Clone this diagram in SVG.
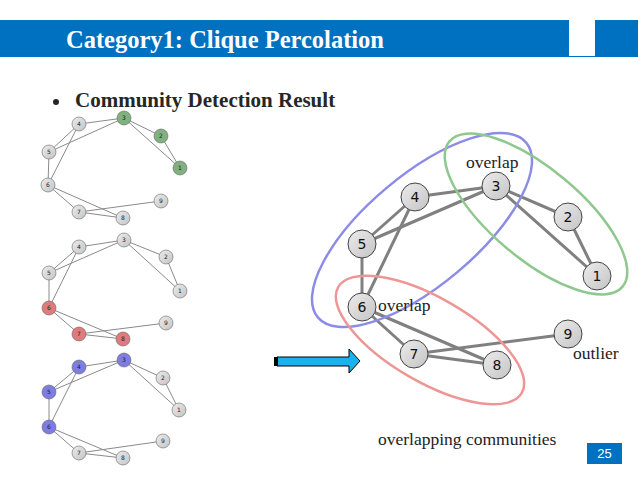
<svg xmlns="http://www.w3.org/2000/svg" width="638" height="479" viewBox="0 0 638 479">
<defs>
<linearGradient id="ng" x1="0" y1="0" x2="1" y2="1">
<stop offset="0" stop-color="#ececec"/>
<stop offset="1" stop-color="#c4c4c4"/>
</linearGradient>
<style>
.title{font-family:"Liberation Serif",serif;font-weight:bold;font-size:24.5px;fill:#fff}
.bul{font-family:"Liberation Serif",serif;font-weight:bold;font-size:21px;fill:#262626}
.lbl{font-family:"Liberation Serif",serif;font-size:17.5px;fill:#222}
.se line{stroke:#8a8a8a;stroke-width:1}
.sn circle{stroke:#666;stroke-width:0.6;fill:url(#ng)}
.sn .g{fill:#7fb27f}
.sn .r{fill:#e07b7b}
.sn .b{fill:#7d7de2}
.sn text{font-family:"DejaVu Sans",sans-serif;font-size:6px;fill:#222;text-anchor:middle}
.be line{stroke:#808080;stroke-width:3}
.bn circle{stroke:#444;stroke-width:1;fill:url(#ng)}
.bn text{font-family:"DejaVu Sans",sans-serif;font-size:14px;fill:#111;text-anchor:middle}
.ell{fill:none;stroke-width:2.5}
</style>
</defs>
<rect width="638" height="479" fill="#fff"/>
<!-- header -->
<rect x="0" y="20" width="638" height="37" fill="#0070c0"/>
<rect x="569" y="20" width="26" height="36" fill="#fff"/>
<text class="title" x="66" y="48">Category1: Clique Percolation</text>
<circle cx="56" cy="102" r="3" fill="#262626"/>
<text class="bul" x="75" y="107">Community Detection Result</text>

<!-- small graph 1 -->
<g id="small1">
<g class="se">
<line x1="79" y1="124" x2="124" y2="118"/><line x1="49" y1="152" x2="79" y2="124"/><line x1="49" y1="152" x2="124" y2="118"/>
<line x1="79" y1="124" x2="48" y2="185"/><line x1="49" y1="152" x2="48" y2="185"/><line x1="124" y1="118" x2="161" y2="136"/>
<line x1="124" y1="118" x2="180" y2="168"/><line x1="161" y1="136" x2="180" y2="168"/><line x1="48" y1="185" x2="79" y2="212"/>
<line x1="48" y1="185" x2="123" y2="218"/><line x1="79" y1="212" x2="123" y2="218"/><line x1="79" y1="212" x2="161" y2="201"/>
</g>
<g class="sn">
<circle class="g" cx="180" cy="168" r="7"/><text x="180" y="170">1</text>
<circle class="g" cx="161" cy="136" r="7"/><text x="161" y="138">2</text>
<circle class="g" cx="124" cy="118" r="7"/><text x="124" y="120">3</text>
<circle cx="79" cy="124" r="7"/><text x="79" y="126">4</text>
<circle cx="49" cy="152" r="7"/><text x="49" y="154">5</text>
<circle cx="48" cy="185" r="7"/><text x="48" y="187">6</text>
<circle cx="79" cy="212" r="7"/><text x="79" y="214">7</text>
<circle cx="123" cy="218" r="7"/><text x="123" y="220">8</text>
<circle cx="161" cy="201" r="7"/><text x="161" y="203">9</text>
</g>
</g>

<!-- small graph 2 -->
<g id="small2">
<g class="se">
<line x1="79" y1="247" x2="124" y2="240"/><line x1="49" y1="273" x2="79" y2="247"/><line x1="49" y1="273" x2="124" y2="240"/>
<line x1="79" y1="247" x2="49" y2="308"/><line x1="49" y1="273" x2="49" y2="308"/><line x1="124" y1="240" x2="166" y2="257"/>
<line x1="124" y1="240" x2="180" y2="291"/><line x1="166" y1="257" x2="180" y2="291"/><line x1="49" y1="308" x2="79" y2="334"/>
<line x1="49" y1="308" x2="123" y2="339"/><line x1="79" y1="334" x2="123" y2="339"/><line x1="79" y1="334" x2="166" y2="323"/>
</g>
<g class="sn">
<circle cx="180" cy="291" r="7"/><text x="180" y="293">1</text>
<circle cx="166" cy="257" r="7"/><text x="166" y="259">2</text>
<circle cx="124" cy="240" r="7"/><text x="124" y="242">3</text>
<circle cx="79" cy="247" r="7"/><text x="79" y="249">4</text>
<circle cx="49" cy="273" r="7"/><text x="49" y="275">5</text>
<circle class="r" cx="49" cy="308" r="7"/><text x="49" y="310">6</text>
<circle class="r" cx="79" cy="334" r="7"/><text x="79" y="336">7</text>
<circle class="r" cx="123" cy="339" r="7"/><text x="123" y="341">8</text>
<circle cx="166" cy="323" r="7"/><text x="166" y="325">9</text>
</g>
</g>

<!-- small graph 3 -->
<g id="small3">
<g class="se">
<line x1="79" y1="367" x2="124" y2="360"/><line x1="49" y1="392" x2="79" y2="367"/><line x1="49" y1="392" x2="124" y2="360"/>
<line x1="79" y1="367" x2="49" y2="427"/><line x1="49" y1="392" x2="49" y2="427"/><line x1="124" y1="360" x2="163" y2="378"/>
<line x1="124" y1="360" x2="179" y2="410"/><line x1="163" y1="378" x2="179" y2="410"/><line x1="49" y1="427" x2="79" y2="453"/>
<line x1="49" y1="427" x2="123" y2="458"/><line x1="79" y1="453" x2="123" y2="458"/><line x1="79" y1="453" x2="163" y2="441"/>
</g>
<g class="sn">
<circle cx="179" cy="410" r="7"/><text x="179" y="412">1</text>
<circle cx="163" cy="378" r="7"/><text x="163" y="380">2</text>
<circle class="b" cx="124" cy="360" r="7"/><text x="124" y="362">3</text>
<circle class="b" cx="79" cy="367" r="7"/><text x="79" y="369">4</text>
<circle class="b" cx="49" cy="392" r="7"/><text x="49" y="394">5</text>
<circle class="b" cx="49" cy="427" r="7"/><text x="49" y="429">6</text>
<circle cx="79" cy="453" r="7"/><text x="79" y="455">7</text>
<circle cx="123" cy="458" r="7"/><text x="123" y="460">8</text>
<circle cx="163" cy="441" r="7"/><text x="163" y="443">9</text>
</g>
</g>

<!-- arrow -->
<g id="arrow">
<polygon points="277,357 349,357 349,349 360,361 349,373 349,366 277,366" fill="#1ab2ee" stroke="#000" stroke-width="1"/>
<rect x="274" y="357" width="4" height="9" fill="#000"/>
</g>

<!-- big graph connectors -->
<g id="connectors" class="be">
<line x1="415" y1="197" x2="496" y2="186"/>
<line x1="362" y1="244" x2="415" y2="197"/>
<line x1="362" y1="244" x2="496" y2="186"/>
<line x1="415" y1="197" x2="362" y2="307"/>
<line x1="362" y1="244" x2="362" y2="307"/>
<line x1="496" y1="186" x2="568" y2="217"/>
<line x1="496" y1="186" x2="597" y2="276"/>
<line x1="568" y1="217" x2="597" y2="276"/>
<line x1="362" y1="307" x2="414" y2="354"/>
<line x1="362" y1="307" x2="497" y2="365"/>
<line x1="414" y1="354" x2="497" y2="365"/>
<line x1="414" y1="354" x2="568" y2="334"/>
</g>

<!-- big graph nodes -->
<g class="bn">
<g id="n1"><circle cx="597" cy="276" r="14"/><text x="597" y="281">1</text></g>
<g id="n2"><circle cx="568" cy="217" r="14"/><text x="568" y="222">2</text></g>
<g id="n3"><circle cx="496" cy="186" r="14"/><text x="496" y="191">3</text></g>
<g id="n4"><circle cx="415" cy="197" r="14"/><text x="415" y="202">4</text></g>
<g id="n5"><circle cx="362" cy="244" r="14"/><text x="362" y="249">5</text></g>
<g id="n6"><circle cx="362" cy="307" r="14"/><text x="362" y="312">6</text></g>
<g id="n7"><circle cx="414" cy="354" r="14"/><text x="414" y="359">7</text></g>
<g id="n8"><circle cx="497" cy="365" r="14"/><text x="497" y="370">8</text></g>
<g id="n9"><circle cx="568" cy="334" r="14"/><text x="568" y="339">9</text></g>
</g>

<!-- community ellipses -->
<g id="communities">
<ellipse class="ell" cx="422" cy="230" rx="136" ry="55" transform="rotate(-40 422 230)" stroke="#8c8ce8"/>
<ellipse class="ell" cx="536" cy="214" rx="113" ry="45" transform="rotate(40 536 214)" stroke="#8fc88f"/>
<ellipse class="ell" cx="430" cy="340" rx="106" ry="42" transform="rotate(30 430 340)" stroke="#ee9696"/>
</g>

<text class="lbl" x="466" y="168">overlap</text>
<text class="lbl" x="378" y="311">overlap</text>
<text class="lbl" x="573" y="359">outlier</text>
<text class="lbl" x="378" y="445">overlapping communities</text>

<g id="pagenum">
<rect x="587" y="443" width="35" height="21" fill="#0070c0"/>
<text x="604.5" y="458" font-family="Liberation Sans,sans-serif" font-size="13" fill="#fff" text-anchor="middle">25</text>
</g>
</svg>
